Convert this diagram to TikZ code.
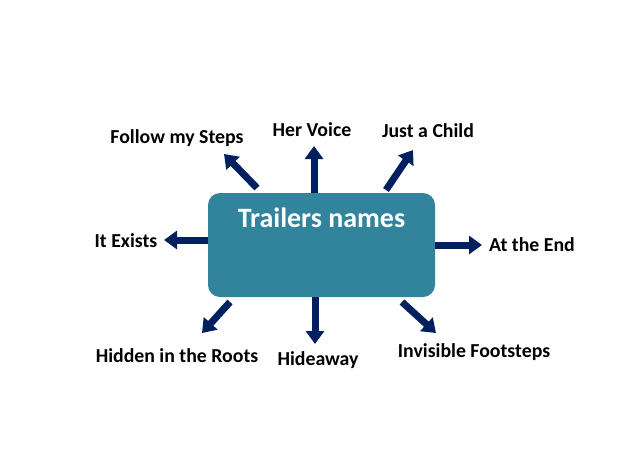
\documentclass[tikz,border=0pt]{standalone}
\usepackage{fontspec}
\setmainfont{Carlito}
\usetikzlibrary{arrows.meta}
\definecolor{boxteal}{RGB}{49,132,155}
\definecolor{arrownavy}{RGB}{0,32,96}
\begin{document}
\begin{tikzpicture}[x=1pt,y=-1pt,
    title/.style={fill=boxteal,rounded corners=12pt,minimum width=227pt,minimum height=104pt,inner sep=0pt},
    label/.style={font=\fontsize{19.8}{22}\selectfont\bfseries,inner sep=0pt},
    spoke/.style={arrownavy,line width=7pt,-{Triangle[width=18pt,length=13pt]}}]
\useasboundingbox (0,0) rectangle (640,453);
\node[title] at (321.5,245) (box) {};
\node[font=\fontsize{28}{32}\selectfont\bfseries,text=white] at (321.5,218) (head) {Trailers names};
% names round the box
\node[label] at (177,138) (follow) {Follow my Steps};
\node[label] at (312,130) (voice) {Her Voice};
\node[label] at (428,131) (child) {Just a Child};
\node[label] at (126,241) (exists) {It Exists};
\node[label] at (532,245) (end) {At the End};
\node[label] at (177,356) (roots) {Hidden in the Roots};
\node[label] at (318,360) (hide) {Hideaway};
\node[label] at (474,352) (foot) {Invisible Footsteps};
% arrow ends
\coordinate (a1) at (257,188); \coordinate (b1) at (224,154);
\coordinate (a2) at (314,193); \coordinate (b2) at (314,146);
\coordinate (a3) at (386,190); \coordinate (b3) at (413,150);
\coordinate (a4) at (208,240); \coordinate (b4) at (164,240);
\coordinate (a5) at (435,245); \coordinate (b5) at (482,245);
\coordinate (a6) at (230,302); \coordinate (b6) at (202,333);
\coordinate (a7) at (315,297); \coordinate (b7) at (315,344);
\coordinate (a8) at (402,302); \coordinate (b8) at (436,333);
\draw[spoke] (a1) -- (b1);
\draw[spoke] (a2) -- (b2);
\draw[spoke] (a3) -- (b3);
\draw[spoke] (a4) -- (b4);
\draw[spoke] (a5) -- (b5);
\draw[spoke] (a6) -- (b6);
\draw[spoke] (a7) -- (b7);
\draw[spoke] (a8) -- (b8);
\end{tikzpicture}
\end{document}
